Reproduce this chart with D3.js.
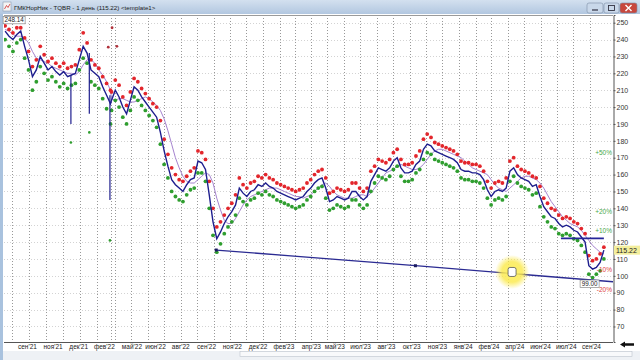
<!DOCTYPE html>
<html>
<head>
<meta charset="utf-8">
<script src="https://cdn.jsdelivr.net/npm/d3@7"></script>
<style>
  html, body { margin: 0; padding: 0; background: #fff; overflow: hidden; }
  svg { display: block; font-family: "Liberation Sans", Arial, sans-serif; }
</style>
</head>
<body>
<div id="chart"></div>
<script>
/* ГМКНорНик daily chart, weekly read-off of the terminal screenshot */

const title = "ГМКНорНик - TQBR - 1 день (115.22) <template1>";

// before the march 2022 exchange closure, one point per week from this friday
const startA = "2021-08-20";
const closeA = [245, 242, 240, 243, 245, 236, 228, 218, 222, 230, 226, 222, 224, 221, 219, 221, 218, 219, 220, 228,
  236, 232, 222, 220, 218, 212, 207, 202];
const highA = [248.14, 246, 244, 247, 247, 241, 233, 224, 228, 236, 231, 227, 229, 226, 224, 226, 223, 224, 225, 234,
  244, 238, 228, 225, 223, 218, 214, 210];
const lowA = [240, 236, 233, 238, 240, 229, 222, 210, 215, 224, 220, 216, 218, 215, 212, 214, 211, 213, 214, 222,
  229, 226, 215, 213, 211, 205, 199, 190];
const maA = [246, 245, 243, 242, 242, 241, 238, 233, 229, 228, 227, 226, 224, 223, 222, 221, 220, 220, 219, 221,
  225, 228, 228, 226, 222, 219, 215, 210];

// after reopening
const startB = "2022-03-25";
const closeB = [
  204, 210, 206, 200, 196, 204, 212, 210, 206, 203,
  200, 197, 194, 185, 174, 165, 157, 154, 152, 150,
  154, 157, 158, 168, 167, 163, 148, 132, 122, 126,
  131, 135, 138, 142, 152, 149, 147, 150, 151, 154,
  153, 155, 153, 152, 150, 149, 148, 147, 146, 145,
  146, 147, 150, 152, 155, 157, 158, 152, 144, 145,
  147, 146, 145, 146, 150, 150, 147, 145, 147, 156,
  160, 164, 163, 162, 164, 168, 170, 164, 161, 161,
  162, 166, 168, 175, 178, 177, 174, 173, 172, 171,
  170, 169, 167, 163, 162, 162, 161, 161, 160, 157,
  151, 147, 150, 151, 150, 152, 162, 164, 160, 158,
  157, 156, 153, 154, 147, 141, 138, 135, 134, 131,
  129, 130, 129, 127, 126, 123, 120, 106, 104, 105,
  108, 115.22];
const highB = [
  209, 216, 213, 206, 201, 209, 217, 215, 211, 208,
  205, 202, 200, 192, 181, 172, 164, 160, 157, 156,
  159, 162, 164, 174, 173, 169, 156, 140, 129, 132,
  136, 140, 143, 148, 158, 154, 152, 155, 156, 159,
  158, 160, 158, 157, 155, 154, 153, 152, 151, 150,
  151, 152, 155, 157, 160, 162, 163, 158, 149, 150,
  152, 151, 150, 151, 155, 155, 152, 150, 152, 162,
  165, 169, 168, 167, 169, 173, 175, 169, 166, 166,
  167, 171, 174, 181, 184, 182, 179, 178, 177, 176,
  175, 174, 172, 168, 167, 167, 166, 166, 165, 162,
  156, 152, 155, 156, 155, 158, 168, 170, 165, 163,
  162, 161, 159, 158, 153, 146, 143, 140, 139, 136,
  134, 135, 134, 132, 131, 128, 125, 112, 109, 110,
  113, 117];
const lowB = [
  198, 204, 200, 194, 190, 198, 206, 204, 201, 198,
  195, 192, 188, 178, 166, 158, 150, 147, 145, 144,
  148, 151, 152, 161, 161, 156, 140, 124, 114, 119,
  125, 129, 132, 136, 146, 144, 142, 145, 146, 149,
  148, 150, 148, 147, 145, 144, 143, 142, 141, 140,
  141, 142, 145, 147, 150, 152, 153, 146, 139, 140,
  142, 141, 140, 141, 145, 145, 142, 140, 142, 150,
  155, 159, 158, 157, 159, 163, 165, 159, 156, 156,
  157, 161, 163, 169, 173, 172, 169, 168, 167, 166,
  165, 164, 162, 158, 157, 157, 156, 156, 155, 152,
  146, 142, 145, 146, 145, 147, 156, 159, 155, 153,
  152, 151, 148, 149, 141, 135, 132, 129, 128, 125,
  124, 125, 124, 122, 121, 118, 114, 101, 99, 101,
  103, 110];
const maB = [
  205, 204, 205, 205, 204, 203, 203, 204, 205, 206,
  205, 203, 201, 198, 193, 186, 178, 170, 164, 159,
  156, 155, 155, 157, 159, 161, 160, 155, 146, 139,
  133, 131, 131, 134, 138, 142, 145, 147, 148, 149,
  150, 151, 152, 152, 152, 151, 150, 149, 148, 147,
  147, 146, 147, 148, 150, 152, 154, 155, 153, 150,
  148, 147, 146, 146, 146, 147, 148, 148, 147, 149,
  152, 155, 158, 161, 162, 163, 165, 166, 165, 164,
  163, 163, 164, 166, 169, 172, 174, 175, 175, 174,
  173, 172, 171, 170, 168, 166, 164, 163, 162, 161,
  160, 157, 154, 152, 151, 150, 152, 154, 156, 158,
  159, 159, 158, 157, 155, 152, 148, 144, 141, 138,
  135, 133, 131, 130, 129, 127, 124, 121, 118, 116,
  114, 113];

// bad prints: line from the close down to a low, plus a stray low dot
const spikeDates = ["2021-12-16", "2022-01-18", "2022-02-24"];
const spikeTops = [219, 232, 207];
const spikeEnds = [190, 196, 145];
const spikeDots = [179, 185, 121];
const strayDates = ["2022-02-21", "2022-03-26", "2022-04-04"];
const strayHighs = [235.5, 247, 236];

// drawn lines
const trendDates = ["2022-10-06", "2023-10-12", "2024-10-14"];
const trendVals = [115.3, 106.0, 96.5];
const levelDates = ["2024-07-09", "2024-09-27"];
const levelVal = 122.2;
const cursorDate = "2024-04-09";
const cursorVal = 102.3;

const lastPrice = 115.22;
const pctLevels = [0.5, 0.2, 0.1, -0.1, -0.2];
const pctLabels = ["+50%", "+20%", "+10%", "-10%", "-20%"];

const yTicks = [70, 80, 90, 100, 110, 120, 130, 140, 150, 160, 170, 180, 190, 200, 210, 220, 230, 240, 250];
const monthNames = ["янв", "фев", "мар", "апр", "май", "июн", "июл", "авг", "сен", "окт", "ноя", "дек"];
const xTickDates = ["2021-09-29", "2021-11-14", "2021-12-30", "2022-02-14", "2022-05-02", "2022-06-15",
  "2022-08-01", "2022-09-18", "2022-11-05", "2022-12-23", "2023-02-09", "2023-04-01", "2023-05-15",
  "2023-07-02", "2023-08-19", "2023-10-05", "2023-11-22", "2024-01-09", "2024-02-26", "2024-04-14",
  "2024-06-01", "2024-07-19", "2024-09-04"];

const W = 640, H = 360;
const plot = { left: 4, right: 613, top: 15, bottom: 342 };
const parse = d3.timeParse("%Y-%m-%d");

const rows = [];
closeA.forEach((c, i) => rows.push({
  date: d3.timeDay.offset(parse(startA), 7 * i), close: c, high: highA[i], low: lowA[i], ma: maA[i] }));
closeB.forEach((c, i) => rows.push({
  date: d3.timeDay.offset(parse(startB), 7 * i), close: c, high: highB[i], low: lowB[i], ma: maB[i] }));

// trading-time axis: the closed weeks of march 2022 take almost no room
const x = d3.scaleTime()
  .domain([parse("2021-08-18"), parse("2022-02-25"), parse("2022-03-24"), parse("2024-10-14")])
  .range([plot.left, 110.5, 111, plot.right]);
const y = d3.scaleLinear().domain([60.8, 254.56]).range([plot.bottom, plot.top]);

const svg = d3.select("#chart").append("svg")
  .attr("width", W).attr("height", H);

const defs = svg.append("defs");
const tg = defs.append("linearGradient").attr("id", "titlebar").attr("x1", 0).attr("y1", 0).attr("x2", 0).attr("y2", 1);
tg.append("stop").attr("offset", "0%").attr("stop-color", "#d3e0ef");
tg.append("stop").attr("offset", "100%").attr("stop-color", "#b2c7e0");
const glow = defs.append("radialGradient").attr("id", "glow");
glow.append("stop").attr("offset", "0%").attr("stop-color", "#fff36a").attr("stop-opacity", 1);
glow.append("stop").attr("offset", "60%").attr("stop-color", "#fbe94a").attr("stop-opacity", 0.8);
glow.append("stop").attr("offset", "100%").attr("stop-color", "#fbe94a").attr("stop-opacity", 0);
defs.append("clipPath").attr("id", "clip-plot").append("rect")
  .attr("x", plot.left).attr("y", plot.top)
  .attr("width", plot.right - plot.left).attr("height", plot.bottom - plot.top);

// window chrome
svg.append("rect").attr("width", W).attr("height", H).attr("fill", "#fff");
svg.append("rect").attr("width", W).attr("height", 14).attr("fill", "url(#titlebar)");
svg.append("rect").attr("x", 0).attr("y", 14).attr("width", 3).attr("height", H - 14).attr("fill", "#a9c2de");
svg.append("rect").attr("x", 3).attr("y", 2).attr("width", 8).attr("height", 9)
  .attr("fill", "#f4f4f4").attr("stroke", "#8a9bb0").attr("stroke-width", 0.6);
svg.append("path").attr("d", "M4.5,9 L6.5,5.5 L8,7.5 L10,4").attr("fill", "none")
  .attr("stroke", "#d03030").attr("stroke-width", 0.8);
svg.append("text").attr("x", 14).attr("y", 10).attr("font-size", 6.2).attr("fill", "#1b1b1b").text(title);

const buttons = [
  { x: 587, w: 16, fill: "#c9d8ea" },
  { x: 604, w: 15, fill: "#c9d8ea" },
  { x: 620, w: 17, fill: "#c8473d" }
];
svg.selectAll("rect.btn").data(buttons).join("rect").attr("class", "btn")
  .attr("x", d => d.x).attr("y", 3).attr("width", d => d.w).attr("height", 10).attr("rx", 2)
  .attr("fill", d => d.fill).attr("stroke", "#7d8ea6").attr("stroke-width", 0.6);
svg.append("line").attr("x1", 592).attr("x2", 598).attr("y1", 10).attr("y2", 10).attr("stroke", "#334").attr("stroke-width", 1.2);
svg.append("rect").attr("x", 608.5).attr("y", 5.5).attr("width", 6).attr("height", 5)
  .attr("fill", "none").attr("stroke", "#334").attr("stroke-width", 0.9);
svg.append("path").attr("d", "M625.5,5 L631.5,11 M631.5,5 L625.5,11").attr("stroke", "#fff").attr("stroke-width", 1.4);

// bottom strip with scrollbar
svg.append("rect").attr("x", 3).attr("y", 351).attr("width", W - 3).attr("height", 9).attr("fill", "#eef1f5");
svg.append("rect").attr("x", 240).attr("y", 351.5).attr("width", 392).attr("height", 5)
  .attr("fill", "#f8f9fb").attr("stroke", "#bcc3cd").attr("stroke-width", 0.6);
svg.append("path").attr("d", "M620,344.5 L625,341.5 L625,343.3 L634,343.3 L634,345.7 L625,345.7 L625,347.5 Z")
  .attr("fill", "#111");

// grid
const gridMonths = d3.timeMonth.range(x.domain()[0], rows[rows.length - 1].date);
svg.append("g").selectAll("line").data(yTicks).join("line")
  .attr("x1", plot.left).attr("x2", plot.right)
  .attr("y1", d => Math.round(y(d)) + 0.5).attr("y2", d => Math.round(y(d)) + 0.5)
  .attr("stroke", "#c8c8c8").attr("stroke-width", 0.8).attr("stroke-dasharray", "1,2");
svg.append("g").selectAll("line").data(gridMonths).join("line")
  .attr("x1", d => Math.round(x(d)) + 0.5).attr("x2", d => Math.round(x(d)) + 0.5)
  .attr("y1", plot.top).attr("y2", plot.bottom)
  .attr("stroke", "#8c8c8c").attr("stroke-width", 0.9).attr("stroke-dasharray", "1,2");

// frame
svg.append("line").attr("x1", plot.left).attr("x2", plot.right).attr("y1", plot.top + 0.5).attr("y2", plot.top + 0.5)
  .attr("stroke", "#9a9a9a");
svg.append("line").attr("x1", plot.left).attr("x2", plot.right).attr("y1", plot.bottom + 0.5).attr("y2", plot.bottom + 0.5)
  .attr("stroke", "#555");

// right price axis
const yAxis = svg.append("g").attr("transform", "translate(" + (plot.right + 0.5) + ",0)")
  .call(d3.axisRight(y).tickValues(yTicks).tickSize(2).tickPadding(1).tickFormat(d3.format("d")));
yAxis.select(".domain").attr("stroke", "#555");
yAxis.selectAll(".tick line").attr("stroke", "#555");
yAxis.selectAll("text").attr("font-size", 7).attr("fill", "#333").attr("font-family", "Liberation Sans, Arial");

// month labels
svg.append("g").selectAll("text").data(xTickDates.map(parse)).join("text")
  .attr("x", d => x(d)).attr("y", 349)
  .attr("text-anchor", "middle").attr("font-size", 6.5).attr("fill", "#222")
  .text(d => monthNames[d.getMonth()] + "'" + d3.timeFormat("%y")(d));

const g = svg.append("g").attr("clip-path", "url(#clip-plot)");

// moving average
g.append("path").datum(rows)
  .attr("fill", "none").attr("stroke", "#a583cf").attr("stroke-width", 1)
  .attr("d", d3.line().x(d => x(d.date)).y(d => y(d.ma)));

// highs and lows
g.append("g").selectAll("circle").data(rows).join("circle")
  .attr("cx", d => x(d.date)).attr("cy", d => y(d.low)).attr("r", 1.9).attr("fill", "#2f9e2f");
g.append("g").selectAll("circle").data(rows).join("circle")
  .attr("cx", d => x(d.date)).attr("cy", d => y(d.high)).attr("r", 1.9).attr("fill", "#e3262c");
g.append("g").selectAll("circle").data(strayDates).join("circle")
  .attr("cx", d => x(parse(d))).attr("cy", (d, i) => y(strayHighs[i])).attr("r", 1.4).attr("fill", "#b0303a");

// close line with spikes
g.append("path").datum(rows)
  .attr("fill", "none").attr("stroke", "#1e1e8e").attr("stroke-width", 1.4)
  .attr("d", d3.line().x(d => x(d.date)).y(d => y(d.close)));
g.append("g").selectAll("line").data(spikeDates).join("line")
  .attr("x1", d => x(parse(d))).attr("x2", d => x(parse(d)))
  .attr("y1", (d, i) => y(spikeTops[i])).attr("y2", (d, i) => y(spikeEnds[i]))
  .attr("stroke", "#1e1e8e").attr("stroke-width", 1.2);
g.append("g").selectAll("circle").data(spikeDates).join("circle")
  .attr("cx", d => x(parse(d))).attr("cy", (d, i) => y(spikeDots[i])).attr("r", 1.3).attr("fill", "#2f9e2f");

// trend line and level
const trend = trendDates.map((d, i) => ({ date: parse(d), v: trendVals[i] }));
g.append("path").datum(trend)
  .attr("fill", "none").attr("stroke", "#2b2b92").attr("stroke-width", 1.3)
  .attr("d", d3.line().x(d => x(d.date)).y(d => y(d.v)));
g.append("g").selectAll("rect").data(trend.slice(0, 2)).join("rect")
  .attr("x", d => x(d.date) - 1.5).attr("y", d => y(d.v) - 1.5).attr("width", 3).attr("height", 3)
  .attr("fill", "#1a1a60");
g.append("line")
  .attr("x1", x(parse(levelDates[0]))).attr("x2", x(parse(levelDates[1])))
  .attr("y1", y(levelVal)).attr("y2", y(levelVal))
  .attr("stroke", "#26269a").attr("stroke-width", 1.8);

// percent levels off the last price
g.append("g").selectAll("text").data(pctLevels).join("text")
  .attr("x", plot.right - 1).attr("y", d => y(lastPrice * (1 + d)) + 2.5)
  .attr("text-anchor", "end").attr("font-size", 6.5)
  .attr("fill", d => d > 0 ? "#4aa84a" : "#e0403a")
  .text((d, i) => pctLabels[i]);

// max / min marks
const maxRow = rows.reduce((a, b) => b.high > a.high ? b : a);
const minRow = rows.reduce((a, b) => b.low < a.low ? b : a);
const markBox = (px, py, label, w) => {
  svg.append("rect").attr("x", px).attr("y", py).attr("width", w).attr("height", 7.5)
    .attr("fill", "#fff").attr("stroke", "#777").attr("stroke-width", 0.6);
  svg.append("text").attr("x", px + w / 2).attr("y", py + 6).attr("text-anchor", "middle")
    .attr("font-size", 6.3).attr("fill", "#222").text(label);
};
markBox(x(maxRow.date) - 2, y(maxRow.high) - 9.5, d3.format(".2f")(maxRow.high), 22);
markBox(x(minRow.date) - 12.5, y(minRow.low) + 2.5, d3.format(".2f")(minRow.low), 19);

// last price tag on the axis
svg.append("rect").attr("x", plot.right + 1).attr("y", y(lastPrice) - 4.5).attr("width", 26).attr("height", 9)
  .attr("fill", "#f3ee9c");
svg.append("text").attr("x", plot.right + 3).attr("y", y(lastPrice) + 2.5)
  .attr("font-size", 7).attr("fill", "#222").text(d3.format(".2f")(lastPrice));

// screen-recorder cursor highlight
const cx = x(parse(cursorDate)), cy = y(cursorVal);
svg.append("circle").attr("cx", cx).attr("cy", cy).attr("r", 17).attr("fill", "url(#glow)");
svg.append("rect").attr("x", cx - 4).attr("y", cy - 4.5).attr("width", 8).attr("height", 9).attr("rx", 2)
  .attr("fill", "#fff").attr("stroke", "#555").attr("stroke-width", 0.8);
</script>
</body>
</html>
